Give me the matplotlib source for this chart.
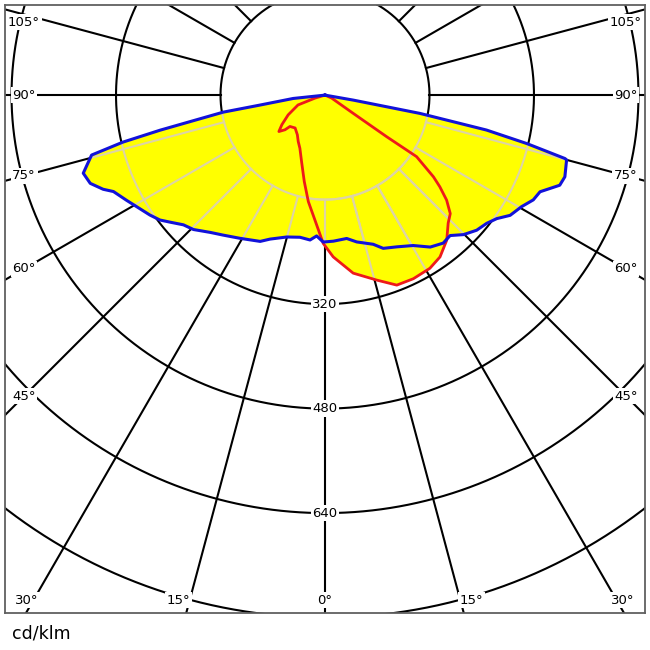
import numpy as np
import matplotlib
matplotlib.use('Agg')
import matplotlib.pyplot as plt

# ---- data (gamma angle in degrees, intensity in cd/klm) ----
# C0-C180 plane (blue, negative angle = left side)
blue_g = [-90, -84.0, -81.3, -80.5, -78.0, -76.9, -75.6, -72.1, -69.4, -67.0, -65.5, -62.1, -59.3,
          -55.6, -52.9, -50.7, -47.5, -44.4, -39.9, -36.0, -30.7, -23.9, -20.9, -15.1, -10.0,
          -5.9, -3.4, -0.7, 3.3, 8.6, 12.2, 17.9, 20.8, 25.3, 30.4, 34.7, 38.6, 41.7, 44.8,
          48.3, 51.6, 54.3, 57.0, 60.4, 63.3, 65.8, 69.0, 71.2, 75.0, 75.2, 76.5, 77.8, 79.1,
          80.0, 90]
blue_v = [0, 49, 101, 158, 258, 318, 369, 389, 384, 369, 356, 344, 335,
          325, 317, 307, 294, 288, 274, 265, 255, 245, 236, 225, 221,
          223, 216, 225, 224, 222, 230, 240, 251, 257, 267, 283, 290, 288, 301,
          311, 316, 324, 338, 346, 357, 361, 385, 388, 383, 380, 318, 253, 148,
          44, 0]
# C90-C270 plane (red)
red_g = [-90, -73.3, -70.0, -61.8, -55.6, -51.7, -49.1, -48.2, -42.3, -34.9, -30.0, -25.3,
         -19.4, -13.5, -8.9, -4.6, -0.7, 2.9, 9.0, 15.6, 20.7, 25.7, 31.2, 35.4, 40.0,
         43.9, 46.6, 49.2, 51.4, 53.0, 56.1, 56.0, 57.1, 65.9, 90]
red_v = [0, 16, 44, 64, 80, 90, 81, 72, 68, 74, 82, 90,
         108, 136, 165, 192, 227, 248, 276, 294, 311, 312, 310, 304, 290,
         272, 264, 246, 225, 208, 169, 114, 52, 11, 0]

rings = [160, 320, 480, 640, 800, 960]
ring_labels = [320, 480, 640]
spokes = list(range(-180, 181, 15))
angle_side_labels = [45, 60, 75, 90, 105]
angle_bottom_labels = [0, 15, 30]
unit_label = "cd/klm"

# ---- figure ----
W = 650
fig = plt.figure(figsize=(6.5, 6.5), dpi=100)
ax = fig.add_axes([5 / W, 37 / W, 640 / W, 608 / W])
ax.set_xlim(-490, 490)
ax.set_ylim(-793, 138)
ax.set_xticks([])
ax.set_yticks([])
for s in ax.spines.values():
    s.set_color('#606060')
    s.set_linewidth(1.3)

px = 160 / 104.5  # data units per pixel

def xy(g, v):
    g = np.radians(np.asarray(g, float))
    v = np.asarray(v, float)
    return v * np.sin(g), -v * np.cos(g)

th = np.linspace(0, 2 * np.pi, 1441)

def draw_grid(color, z, clip=None):
    arts = []
    for R in rings:
        arts += ax.plot(R * np.sin(th), R * np.cos(th), color=color, lw=1.5, zorder=z)
    for a in spokes:
        x, y = xy([a, a], [160, 3000])
        arts += ax.plot(x, y, color=color, lw=1.5, zorder=z)
    if clip is not None:
        for l in arts:
            l.set_clip_path(clip)
    return arts

draw_grid('black', 1)

bx, by = xy(blue_g, blue_v)
rx, ry = xy(red_g, red_v)
pb = ax.fill(bx, by, color='#FFFF00', lw=0, zorder=2)[0]
pr = ax.fill(rx, ry, color='#FFFF00', lw=0, zorder=2)[0]
draw_grid('#DDD4A6', 3, clip=pb)
draw_grid('#DDD4A6', 3, clip=pr)

ax.plot(rx, ry, color='#EE1A1A', lw=2.0, zorder=4, solid_joinstyle='round')
ax.plot(bx, by, color='#1212DA', lw=2.2, zorder=5, solid_joinstyle='round')

bb = dict(facecolor='white', edgecolor='none', pad=1.2)
fs = 9.5
for R in ring_labels:
    ax.text(0, -R, str(R), ha='center', va='center', fontsize=fs, bbox=bb, zorder=6)

# side angle labels
xin = 301 * px
for a in angle_side_labels:
    y = -xin / np.tan(np.radians(a))
    y = min(y, (95 - 22) * px)
    for sgn in (-1, 1):
        ax.text(sgn * xin, y, f"{a}°", ha='center', va='center', fontsize=fs,
                bbox=bb, zorder=6)

# bottom angle labels
yin = -(600 - 95) * px
for a in angle_bottom_labels:
    xi = -yin * np.tan(np.radians(a))
    if a > 0:
        xi = min(xi + 11 * px, 298 * px)
    for sgn in ((1,) if a == 0 else (-1, 1)):
        ax.text(sgn * xi, yin, f"{a}°", ha='center', va='center', fontsize=fs,
                bbox=bb, zorder=6)

fig.text(12 / W, 1 - 633 / W, unit_label, ha='left', va='center', fontsize=12.5)

fig.savefig('out.png', dpi=100)
